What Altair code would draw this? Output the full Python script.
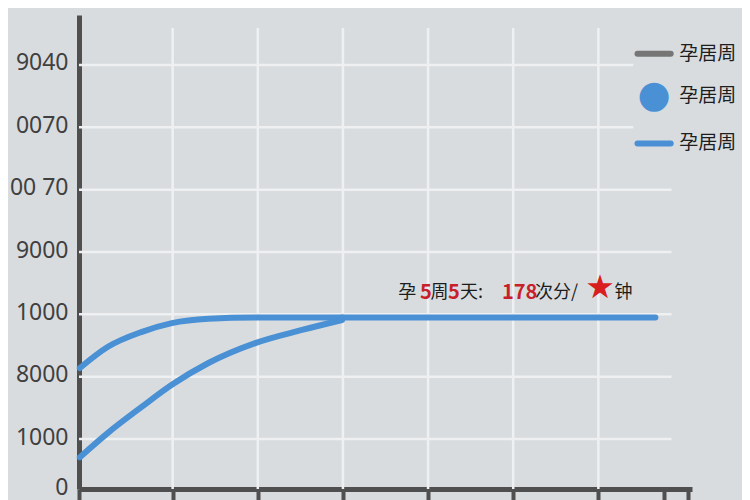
import pandas as pd
import altair as alt

# curve values (x in grid steps, y in label steps)
upper_x = [-0.09, 0.24, 0.64, 0.99, 1.42, 1.97, 2.99]
upper_y = [1.94, 2.28, 2.52, 2.66, 2.73, 2.75, 2.75]
lower_x = [-0.09, 0.24, 0.64, 0.99, 1.42, 1.97, 2.52, 2.99]
lower_y = [0.51, 0.90, 1.32, 1.67, 2.02, 2.34, 2.55, 2.71]
flat_x = [2.99, 6.67]
flat_y = [2.75, 2.75]

# axis ticks and labels
y_ticks = [0, 0.8, 1.8, 2.8, 3.8, 4.8, 5.8, 6.8]
y_labels = ["0", "1000", "8000", "1000", "9000", "00 70", "0070", "9040"]
x_grid = [1, 2, 3, 4, 5, 6]
x_ticks = [-0.1, 1, 2, 3, 4, 5, 6, 6.77, 7.05]
grid_x_end = 6.86
grid_y_top = 7.39

# legend rows (label text, marker, colour)
leg_label = ["孕居周", "孕居周", "孕居周"]
leg_marker = ["line", "dot", "line"]
leg_color = ["#767676", "#4a90d4", "#4a90d4"]
leg_y = [6.98, 6.30, 5.54]
leg_x0, leg_x1, leg_xt = 6.46, 6.85, 6.95

# annotation pieces
ann_text = ["孕", "5", "周", "5", "天:", "178", "次分/", "钟"]
ann_color = ["#1c1c1c", "#c8202a", "#1c1c1c", "#c8202a", "#1c1c1c", "#c8202a", "#1c1c1c", "#1c1c1c"]
ann_digit = [False, True, False, True, False, True, False, False]
ann_x = [3.65, 3.905, 4.03, 4.234, 4.375, 4.868, 5.256, 6.19]
ann_y = 3.14
star_x, star_y = 6.02, 3.22

BG = "#d9dcdf"
BLUE = "#4a90d4"
AXIS = "#4f4f4f"

xs = alt.Scale(domain=[-0.1, 7.1], nice=False, zero=False)
ys = alt.Scale(domain=[0, 7.6], nice=False, zero=False)

lines = pd.concat([
    pd.DataFrame({"x": upper_x, "y": upper_y, "s": "upper"}),
    pd.DataFrame({"x": lower_x, "y": lower_y, "s": "lower"}),
    pd.DataFrame({"x": flat_x, "y": flat_y, "s": "flat"}),
], ignore_index=True)

label_expr = "[" + ",".join("'%s'" % l for l in y_labels) + "][indexof(" + \
    "[" + ",".join(str(t) for t in y_ticks) + "], datum.value)]"

# horizontal and vertical grid
hgrid = alt.Chart(pd.DataFrame({"y": y_ticks[1:]})).mark_rule(
    color="#eef0f2", strokeWidth=2.5
).encode(
    y=alt.Y("y:Q", scale=ys),
    x=alt.datum(-0.1, scale=xs),
    x2=alt.datum(grid_x_end),
)
vgrid = alt.Chart(pd.DataFrame({"x": x_grid})).mark_rule(
    color="#eef0f2", strokeWidth=2.5
).encode(
    x=alt.X("x:Q", scale=xs),
    y=alt.datum(0, scale=ys),
    y2=alt.datum(grid_y_top),
)

curves = alt.Chart(lines).mark_line(
    color=BLUE, strokeWidth=6, strokeCap="round", interpolate="monotone"
).encode(
    x=alt.X("x:Q", scale=xs, axis=alt.Axis(
        values=x_ticks, labels=False, grid=False, title=None,
        domainColor=AXIS, domainWidth=5,
        tickColor=AXIS, tickWidth=4, tickSize=12)),
    y=alt.Y("y:Q", scale=ys, axis=alt.Axis(
        values=y_ticks, labelExpr=label_expr, grid=False, ticks=False, title=None,
        domainColor=AXIS, domainWidth=5,
        labelFont="Noto Sans", labelFontSize=23, labelColor="#404040",
        labelPadding=11, labelOffset=-2)),
    detail="s:N",
)

# legend drawn from small marks
leg = pd.DataFrame({"t": leg_label, "m": leg_marker, "c": leg_color, "y": leg_y})
leg_box = alt.Chart(pd.DataFrame({"y": [leg_y[0] + 0.35], "y2": [leg_y[-1] - 0.35]})).mark_rect(
    color=BG
).encode(
    x=alt.datum(leg_x0 - 0.05, scale=xs), x2=alt.datum(7.1),
    y=alt.Y("y:Q", scale=ys), y2="y2:Q",
)
leg_lines = alt.Chart(leg).transform_filter("datum.m == 'line'").mark_rule(
    strokeWidth=6, strokeCap="round"
).encode(
    x=alt.datum(leg_x0, scale=xs), x2=alt.datum(leg_x1),
    y=alt.Y("y:Q", scale=ys),
    color=alt.Color("c:N", scale=None),
)
leg_dots = alt.Chart(leg).transform_filter("datum.m == 'dot'").mark_text(
    text="●", font="DejaVu Sans", fontSize=38, baseline="middle", align="center"
).encode(
    x=alt.datum((leg_x0 + leg_x1) / 2, scale=xs),
    y=alt.Y("y:Q", scale=ys),
    color=alt.Color("c:N", scale=None),
)
leg_text = alt.Chart(leg).mark_text(
    align="left", baseline="middle", font="Noto Sans CJK SC", fontSize=19, color="#1e1e1e"
).encode(
    x=alt.datum(leg_xt, scale=xs),
    y=alt.Y("y:Q", scale=ys),
    text="t:N",
)

ann = pd.DataFrame({"t": ann_text, "c": ann_color, "d": ann_digit, "x": ann_x,
                    "y": [ann_y] * len(ann_text)})
ann_cjk = alt.Chart(ann).transform_filter("!datum.d").mark_text(
    align="left", baseline="middle", font="Noto Sans CJK SC", fontSize=18
).encode(
    x=alt.X("x:Q", scale=xs), y=alt.Y("y:Q", scale=ys),
    text="t:N", color=alt.Color("c:N", scale=None),
)
ann_num = alt.Chart(ann).transform_filter("datum.d").mark_text(
    align="left", baseline="middle", font="Noto Sans CJK SC", fontSize=20, fontWeight="bold"
).encode(
    x=alt.X("x:Q", scale=xs), y=alt.Y("y:Q", scale=ys),
    text="t:N", color=alt.Color("c:N", scale=None),
)
star = alt.Chart(pd.DataFrame({"x": [star_x], "y": [star_y]})).mark_text(
    text="★", fontSize=33, color="#d81e1e", baseline="middle", align="center",
    font="DejaVu Sans"
).encode(x=alt.X("x:Q", scale=xs), y=alt.Y("y:Q", scale=ys))

chart = alt.layer(
    hgrid, vgrid, curves, leg_box, leg_lines, leg_dots, leg_text, ann_cjk, ann_num, star
).properties(
    width=613, height=474,
    autosize=alt.AutoSizeParams(type="none"),
    padding={"left": 71, "top": 7, "right": 50, "bottom": 15},
    background=BG,
).configure_view(stroke=None)

chart.save("out.html", embed_options={"renderer": "svg", "actions": False})
